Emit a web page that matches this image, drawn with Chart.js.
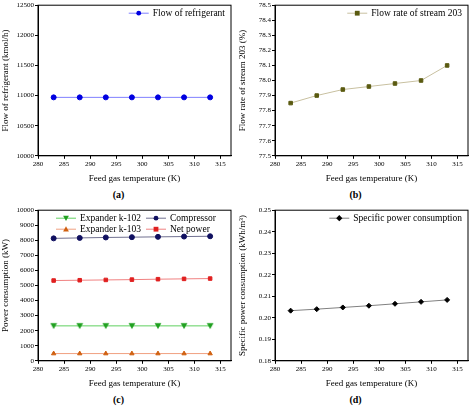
<!DOCTYPE html>
<html>
<head>
<meta charset="UTF-8">
<script src="https://cdn.jsdelivr.net/npm/chart.js"></script>
<style>
  body { margin: 0; background: #fff; font-family: "Liberation Serif", serif; }
  .grid { display: grid; grid-template-columns: 237px 237px; width: 474px; }
  .cell { width: 237px; height: 205px; position: relative; }
  .cell canvas { position: absolute; left: 0; top: 0; }
  .lab { position: absolute; left: 0; width: 100%; top: 189px; text-align: center; font-size: 10px; font-weight: bold; }
</style>
</head>
<body>
<div class="grid">
  <div class="cell"><canvas id="ca" width="237" height="188"></canvas><div class="lab">(a)</div></div>
  <div class="cell"><canvas id="cb" width="237" height="188"></canvas><div class="lab">(b)</div></div>
  <div class="cell"><canvas id="cc" width="237" height="188"></canvas><div class="lab">(c)</div></div>
  <div class="cell"><canvas id="cd" width="237" height="188"></canvas><div class="lab">(d)</div></div>
</div>
<script>
// 数据
const temps = [283, 288, 293, 298, 303, 308, 313];
const xTicks = [280, 285, 290, 295, 300, 305, 310, 315];
const refrigerantFlow = [10970, 10970, 10970, 10970, 10970, 10970, 10970];
const stream203 = [77.85, 77.90, 77.94, 77.96, 77.98, 78.00, 78.10];
const expanderK102 = [2320, 2320, 2320, 2320, 2320, 2320, 2320];
const expanderK103 = [480, 480, 480, 480, 480, 480, 480];
const compressor = [8130, 8160, 8190, 8210, 8230, 8250, 8270];
const netPower = [5330, 5350, 5370, 5390, 5420, 5440, 5460];
const specificPower = [0.2033, 0.2040, 0.2048, 0.2056, 0.2065, 0.2074, 0.2083];

const FONT = 'Liberation Serif';

function drawMarker(ctx, style, x, y, r) {
  ctx.beginPath();
  if (style === 'rect') ctx.rect(x - r, y - r, 2 * r, 2 * r);
  else if (style === 'rectRot') { ctx.moveTo(x, y - r * 1.3); ctx.lineTo(x + r * 1.3, y); ctx.lineTo(x, y + r * 1.3); ctx.lineTo(x - r * 1.3, y); ctx.closePath(); }
  else if (style === 'triangle') { ctx.moveTo(x, y - r * 1.2); ctx.lineTo(x + r * 1.2, y + r); ctx.lineTo(x - r * 1.2, y + r); ctx.closePath(); }
  else if (style === 'triangleDown') { ctx.moveTo(x, y + r * 1.2); ctx.lineTo(x + r * 1.2, y - r); ctx.lineTo(x - r * 1.2, y - r); ctx.closePath(); }
  else ctx.arc(x, y, r, 0, Math.PI * 2);
  ctx.fill();
}

// 倒三角点样式用小画布
function markerImage(style, color) {
  const c = document.createElement('canvas');
  c.width = 8; c.height = 8;
  const g = c.getContext('2d');
  g.fillStyle = color;
  drawMarker(g, style, 4, 4, 2.8);
  return c;
}

// 边框 + 图例插件
const framePlugin = {
  id: 'frame',
  afterDraw(chart) {
    const { ctx, chartArea: a } = chart;
    ctx.save();
    ctx.strokeStyle = '#000';
    ctx.lineWidth = 1;
    ctx.strokeRect(a.left, a.top, a.right - a.left, a.bottom - a.top);
    const cols = chart.options.plugins.frame.cols || 1;
    const colW = chart.options.plugins.frame.colW || 0;
    ctx.font = '9.5px ' + FONT;
    ctx.textBaseline = 'middle';
    chart.data.datasets.forEach((ds, i) => {
      const col = i % cols, row = Math.floor(i / cols);
      const w = ctx.measureText(ds.label).width;
      let x0;
      if (cols === 1) x0 = a.right - w - 30;
      else x0 = a.left + 18 + col * colW;
      const y = a.top + 8 + row * 11;
      ctx.strokeStyle = ds.borderColor;
      ctx.beginPath(); ctx.moveTo(x0, y); ctx.lineTo(x0 + 20, y); ctx.stroke();
      ctx.fillStyle = ds._marker;
      drawMarker(ctx, ds._style, x0 + 10, y, 2.4);
      ctx.fillStyle = '#000';
      ctx.fillText(ds.label, x0 + 24, y);
    });
    ctx.restore();
  }
};

function series(label, data, line, marker, style) {
  return {
    label, data: data.map((v, i) => ({ x: temps[i], y: v })),
    borderColor: line, borderWidth: 1,
    pointBackgroundColor: marker, pointBorderColor: marker,
    pointStyle: style === 'triangleDown' ? markerImage(style, marker) : style,
    pointRadius: 2.5,
    _style: style, _marker: marker
  };
}

function makeChart(id, datasets, yMin, yMax, yStep, yTitle, decimals, legendOpt) {
  return new Chart(document.getElementById(id), {
    type: 'line',
    data: { datasets },
    options: {
      responsive: false, animation: false,
      layout: { padding: { top: 4, right: 6 } },
      plugins: {
        legend: { display: false }, tooltip: { enabled: false },
        frame: legendOpt || {}
      },
      scales: {
        x: {
          type: 'linear', min: 280, max: 317,
          afterBuildTicks: ax => { ax.ticks = xTicks.map(v => ({ value: v })); },
          ticks: { autoSkip: false, color: '#000', font: { family: FONT, size: 7 }, maxRotation: 0, padding: 1 },
          grid: { drawOnChartArea: false, color: '#000', tickLength: 3 },
          border: { color: '#000' },
          title: { display: true, text: 'Feed gas temperature (K)', color: '#000', font: { family: FONT, size: 9 }, padding: { top: 4 } }
        },
        y: {
          min: yMin, max: yMax,
          afterFit: ax => { ax.width = 38; },
          ticks: { stepSize: yStep, color: '#000', font: { family: FONT, size: 7 }, padding: 1,
                   callback: v => v.toFixed(decimals) },
          grid: { drawOnChartArea: false, color: '#000', tickLength: 3 },
          border: { color: '#000' },
          title: { display: true, text: yTitle, color: '#000', font: { family: FONT, size: 9 }, padding: 0 }
        }
      }
    },
    plugins: [framePlugin]
  });
}

makeChart('ca', [series('Flow of refrigerant', refrigerantFlow, '#8080ff', '#0000e0', 'circle')],
  10000, 12500, 500, 'Flow of refrigerant (kmol/h)', 0);
makeChart('cb', [series('Flow rate of stream 203', stream203, '#c8c0a0', '#5a5a10', 'rect')],
  77.5, 78.5, 0.1, 'Flow rate of stream 203 (%)', 1);
makeChart('cc', [
    series('Expander k-102', expanderK102, '#60d060', '#20a020', 'triangleDown'),
    series('Compressor', compressor, '#707090', '#101060', 'circle'),
    series('Expander k-103', expanderK103, '#f0a080', '#d06010', 'triangle'),
    series('Net power', netPower, '#f08080', '#e02020', 'rect')
  ], 0, 10000, 1000, 'Power consumption (kW)', 0, { cols: 2, colW: 90 });
makeChart('cd', [series('Specific power consumption', specificPower, '#808080', '#000', 'rectRot')],
  0.18, 0.25, 0.01, 'Specific power consumption (kWh/m³)', 2);
</script>
</body>
</html>
